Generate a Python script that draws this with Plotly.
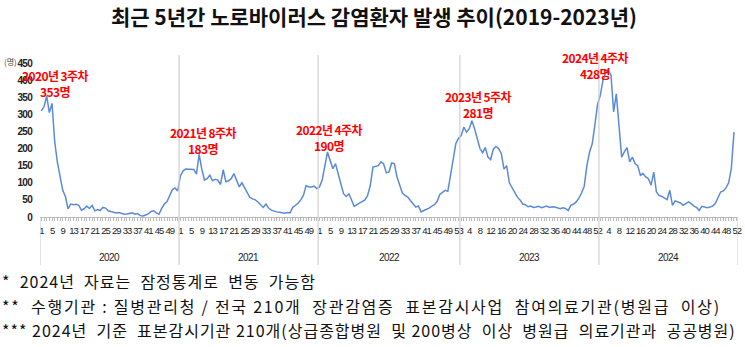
import plotly.graph_objects as go

# ---------------- data ----------------
years = [2020, 2021, 2022, 2023, 2024]
weeks_in_year = [52, 52, 53, 52, 52]

cases_2020 = [310, 322, 353, 305, 332, 220, 160, 118, 78, 60,
              24, 38, 36, 37, 34, 20, 24, 32, 25, 34,
              18, 22, 19, 28, 26, 18, 16, 14, 12, 13,
              10, 8, 9, 11, 12, 8, 10, 4, 3, 6,
              9, 16, 18, 12, 8, 25, 38, 45, 62, 80,
              85, 76]
cases_2021 = [120, 135, 140, 140, 138, 139, 125, 183, 140, 108,
              112, 122, 106, 110, 108, 95, 138, 103, 106, 112,
              127, 110, 88, 100, 85, 68, 57, 53, 50, 44,
              36, 28, 38, 26, 20, 17, 15, 14, 12, 11,
              13, 12, 28, 33, 40, 50, 63, 92, 88, 88,
              90, 83]
cases_2022 = [88, 107, 146, 190, 165, 141, 156, 130, 97, 68,
              60, 68, 49, 31, 36, 40, 44, 50, 63, 92,
              146, 148, 150, 161, 155, 129, 132, 158, 156, 117,
              93, 70, 63, 58, 48, 40, 29, 32, 15, 19,
              22, 26, 32, 36, 46, 66, 72, 78, 75, 125,
              165, 215, 230]
cases_2023 = [238, 263, 248, 258, 281, 258, 230, 200, 188, 203,
              175, 168, 198, 206, 200, 185, 140, 150, 100, 85,
              70, 58, 50, 38, 36, 30, 32, 28, 29, 31,
              27, 30, 32, 28, 30, 29, 26, 24, 27, 25,
              19, 34, 38, 44, 55, 70, 90, 150, 190, 214,
              270, 330]
cases_2024 = [355, 400, 422, 428, 416, 307, 360, 268, 175, 190,
              203, 161, 175, 156, 150, 122, 127, 117, 112, 93,
              131, 73, 63, 60, 55, 51, 78, 34, 47, 44,
              41, 34, 40, 44, 39, 32, 28, 19, 31, 28,
              27, 29, 32, 39, 58, 73, 76, 85, 100, 141,
              248]

peak_years = [2020, 2021, 2022, 2023, 2024]
peak_weeks = [3, 8, 4, 5, 4]

y_ticks = [0, 50, 100, 150, 200, 250, 300, 350, 400, 450]

title_text = "최근 5년간 노로바이러스 감염환자 발생 추이(2019-2023년)"
unit_text = "(명)"
notes = [
    "*  2024년  자료는  잠정통계로  변동  가능함",
    "**  수행기관 : 질병관리청 / 전국 210개  장관감염증  표본감시사업  참여의료기관(병원급  이상)",
    "*** 2024년  기준  표본감시기관 210개(상급종합병원  및 200병상  이상  병원급  의료기관과  공공병원)",
]

# ---------------- build series ----------------
all_cases = [cases_2020, cases_2021, cases_2022, cases_2023, cases_2024]
x_idx, week_no, values = [], [], []
year_start = {}
i = 0
for yr, n, vals in zip(years, weeks_in_year, all_cases):
    year_start[yr] = i
    for w in range(1, n + 1):
        x_idx.append(i)
        week_no.append(w)
        values.append(vals[w - 1] if w - 1 < len(vals) else None)
        i += 1
n_total = i


def squeeze(s, sp):
    return f'<span style="letter-spacing:{sp}px">{s}</span>'


tick_text = [squeeze(str(w), -1.0) if k % 4 == 0 else "" for k, w in enumerate(week_no)]
y_text = [squeeze(str(v), -0.7) for v in y_ticks]

# ---------------- layout geometry ----------------
W, H = 745, 347
ML, MR, MT, MB = 40, 3, 63, 130
PW, PH = W - ML - MR, H - MT - MB


def px_x(px):
    return (px - ML) / PW


def px_y(py):
    return (H - MB - py) / PH


BLUE = "#5B8AD8"
RED = "#FF0000"
TXT = "#222222"
GRID = "#D0D0D0"
SANS = "Liberation Sans, Arial, sans-serif"
KR = "Noto Sans CJK KR, sans-serif"

fig = go.Figure()
fig.add_trace(go.Scatter(
    x=x_idx, y=values, mode="lines",
    line=dict(color=BLUE, width=1.5),
    connectgaps=False, hoverinfo="skip", showlegend=False,
))

shapes = []
bounds = [year_start[y] - 0.5 for y in years] + [n_total - 0.5]
for k, b in enumerate(bounds):
    top = px_y(55) if 0 < k < len(bounds) - 1 else 0
    shapes.append(dict(type="line", xref="x", yref="paper", x0=b, x1=b,
                       y0=top, y1=px_y(265), line=dict(color=GRID, width=1.2)))

annotations = []
for yr, n in zip(years, weeks_in_year):
    mid = year_start[yr] + (n - 1) / 2
    annotations.append(dict(x=mid, y=px_y(257), xref="x", yref="paper",
                            xanchor="center", yanchor="middle",
                            text=squeeze(str(yr), -0.6), showarrow=False,
                            font=dict(family=SANS, size=10, color=TXT)))

offsets = {2020: (8, 13), 2021: (4, 14), 2022: (2, 14), 2023: (6, 16), 2024: (-13, 5)}
for yr, wk in zip(peak_years, peak_weeks):
    k = year_start[yr] + wk - 1
    v = values[k]
    dx, dy = offsets[yr]
    annotations.append(dict(
        x=k, y=v, xref="x", yref="y", xanchor="center", yanchor="middle",
        xshift=dx, yshift=dy, showarrow=False,
        text=f'<b><span style="letter-spacing:-0.6px">{yr}년 {wk}주차<br>{v}명</span></b>',
        font=dict(family=KR, size=12, color=RED),
    ))

annotations.append(dict(x=px_x(10), y=px_y(61), xref="paper", yref="paper",
                        xanchor="center", yanchor="middle",
                        text=unit_text, showarrow=False,
                        font=dict(family=KR, size=8, color="#444444")))

note_y = [281, 306, 330]
note_sp = [1.0, 1.75, 1.0]
for text, py, sp in zip(notes, note_y, note_sp):
    annotations.append(dict(x=px_x(0), y=px_y(py), xref="paper", yref="paper",
                            xanchor="left", yanchor="middle", text=squeeze(text, sp),
                            showarrow=False,
                            font=dict(family=KR, size=16, color="#111111")))

fig.update_layout(
    width=W, height=H,
    margin=dict(l=ML, r=MR, t=MT, b=MB, pad=0),
    paper_bgcolor="white", plot_bgcolor="white",
    title=dict(text=f"<b>{title_text}</b>", x=374 / W, xref="container",
               xanchor="center", y=1 - 18 / H, yref="container", yanchor="middle",
               font=dict(family=KR, size=21, color="#111111")),
    xaxis=dict(
        range=[-0.5, n_total - 0.5],
        tickmode="array", tickvals=x_idx, ticktext=tick_text, tickangle=0,
        ticks="outside", ticklen=3, tickwidth=1, tickcolor="#BBBBBB",
        showline=True, linecolor="#BBBBBB", linewidth=1,
        showgrid=False, zeroline=False,
        ticklabelstandoff=2, ticklabeloverflow="allow",
        tickfont=dict(family=SANS, size=9.5, color=TXT),
    ),
    yaxis=dict(
        range=[0, 450], tickmode="array", tickvals=y_ticks, ticktext=y_text,
        showgrid=False, zeroline=False, showline=False, ticks="",
        ticklabelstandoff=7,
        tickfont=dict(family=SANS, size=10, color=TXT, weight="bold"),
    ),
    shapes=shapes, annotations=annotations,
)

fig.write_html("out.html")
